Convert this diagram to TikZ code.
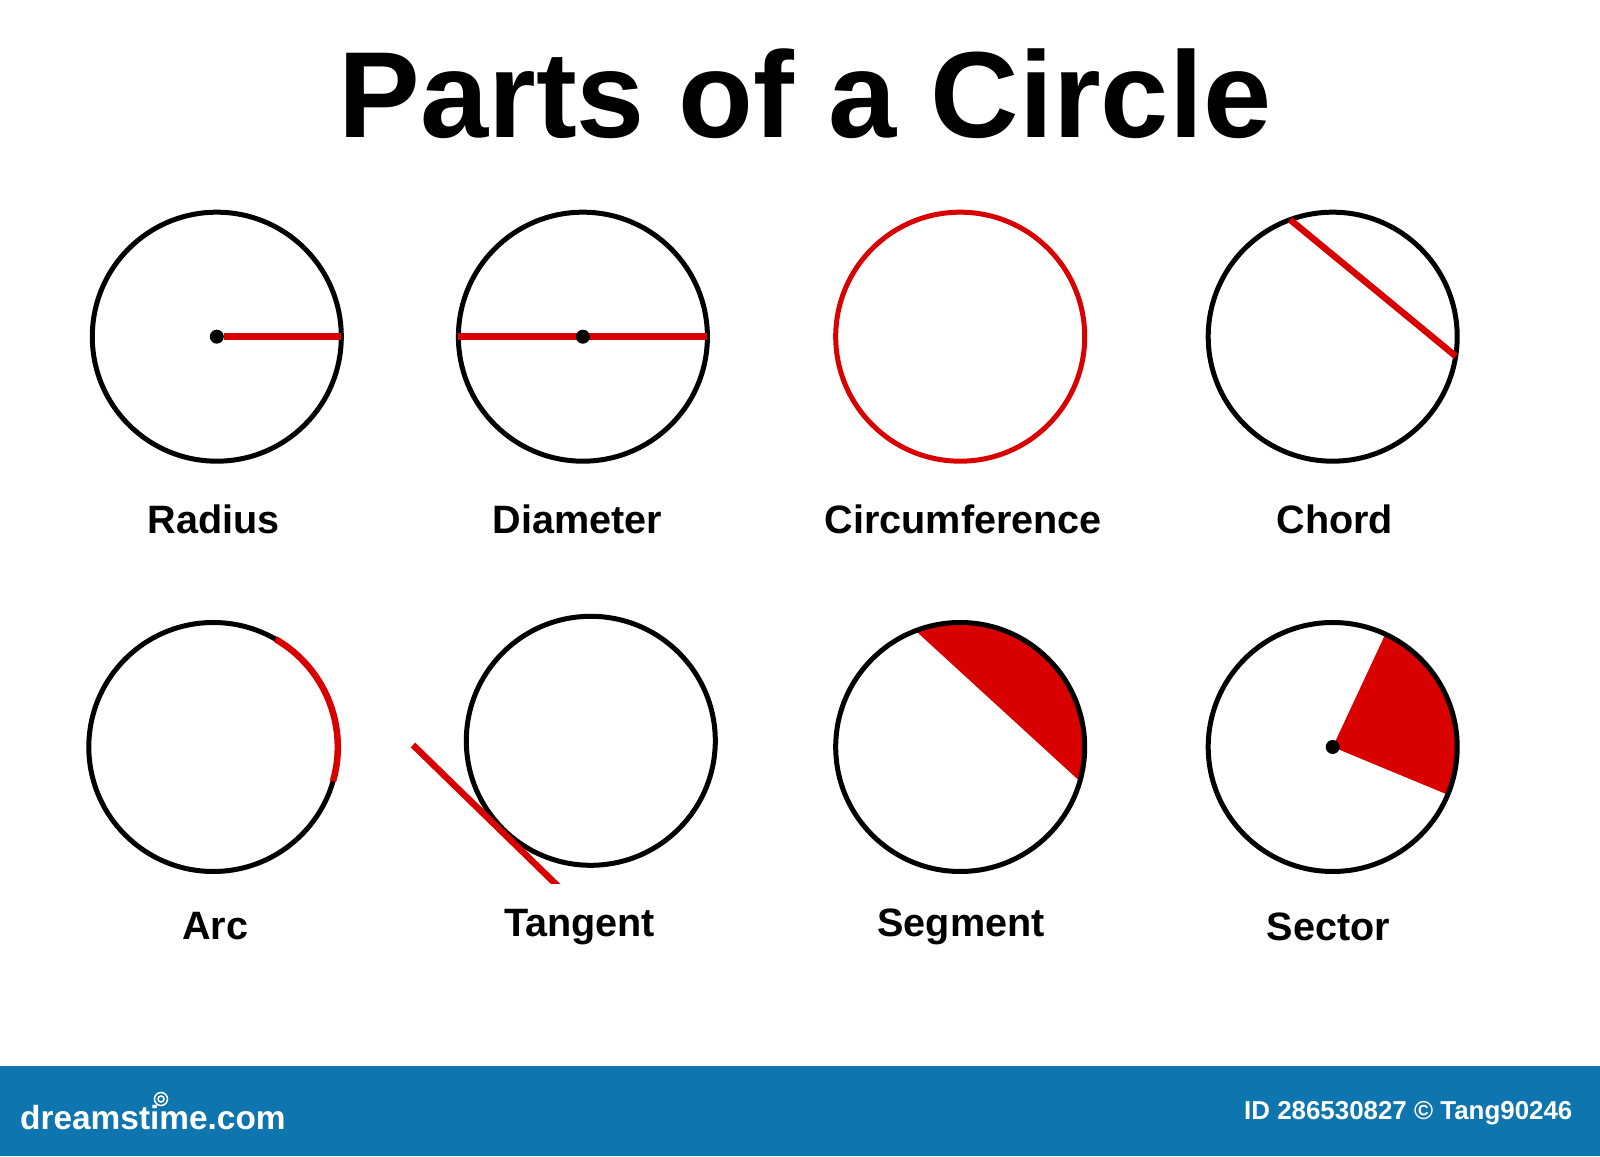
\documentclass[tikz,border=0pt]{standalone}
\usepackage{fontspec}
\setmainfont{Liberation Sans}
\usetikzlibrary{backgrounds}
\definecolor{cred}{HTML}{D90000}
\definecolor{cbar}{HTML}{0F75AE}
\tikzset{
  ring/.style={circle,draw=black,line width=5pt,minimum size=249pt,inner sep=0pt,outer sep=0pt},
  redring/.style={ring,draw=cred},
  dotnode/.style={circle,fill=black,minimum size=14pt,inner sep=0pt,outer sep=0pt},
  redline/.style={draw=cred,line width=6.5pt},
  lab/.style={anchor=base,font=\bfseries\fontsize{39.6}{44}\selectfont,inner sep=0pt},
  ttl/.style={anchor=base,font=\bfseries\fontsize{122.5}{130}\selectfont,inner sep=0pt},
  foot/.style={anchor=base west,text=white,inner sep=0pt},
  spiral/.style={circle,draw=white,line width=1.5pt,inner sep=0pt,outer sep=0pt}
}
\begin{document}
\begin{tikzpicture}[x=1pt,y=1pt]
\useasboundingbox (0,0) rectangle (1600,1156);
\node[ttl] (title) at (805,1018) {Parts of a Circle};

% top row
\node[ring] (rad) at (216.8,819.3) {};
\node[dotnode] (radc) at (rad.center) {};
\draw[redline] (radc) -- (rad.east);
\node[lab] (radl) at (213.8,622.3) {Radius};

\node[ring] (dia) at (582.9,819.3) {};
\draw[redline] (dia.west) -- (dia.east);
\node[dotnode] (diac) at (dia.center) {};
\node[lab] (dial) at (577.6,622.3) {Diameter};

\node[redring] (cir) at (960.2,819.3) {};
\node[lab] (cirl) at (963.3,622.3) {Circumference};

\node[ring] (cho) at (1332.7,819.3) {};
\draw[redline] (cho.110.8) -- (cho.-9.6);
\node[lab] (chol) at (1334.7,622.3) {Chord};

% bottom row
\node[ring] (arcn) at (213.3,409) {};
\draw[redline] (arcn.60) arc[start angle=60,end angle=-16,radius=124.5pt];
\node[lab] (arcl) at (215.3,216) {Arc};

\node[ring] (tan) at (590.8,415.2) {};
\coordinate (tana) at (413,411);
\coordinate (tanb) at (568,260);
\begin{scope}
\clip (380,272) rectangle (620,440);
\draw[redline] (tana) -- (tanb);
\end{scope}
\node[lab] (tanl) at (579.6,219.3) {Tangent};

\node[ring] (seg) at (960.2,409) {};
\begin{scope}[on background layer]
\fill[cred] (seg.111) arc[start angle=111,end angle=-16,radius=124.5pt] -- cycle;
\end{scope}
\node[lab] (segl) at (961,219.3) {Segment};

\node[ring] (sec) at (1332.7,409) {};
\begin{scope}[on background layer]
\fill[cred] (sec.center) -- (sec.65.8) arc[start angle=65.8,end angle=-22.5,radius=124.5pt] -- cycle;
\end{scope}
\node[dotnode] (secc) at (sec.center) {};
\node[lab] (secl) at (1328.6,215) {Sector};

% footer
\fill[cbar] (0,0) rectangle (1600,90);
\node[foot,font=\bfseries\fontsize{33.4}{36}\selectfont] (brand) at (20,27) {dreamstime.com};
\node[spiral,minimum size=13pt] (spo) at (161,57) {};
\node[spiral,minimum size=6pt] (spi) at (161,57) {};
\node[foot,font=\bfseries\fontsize{25.9}{30}\selectfont] (idt) at (1244,37) {ID 286530827 © Tang90246};
\end{tikzpicture}
\end{document}
